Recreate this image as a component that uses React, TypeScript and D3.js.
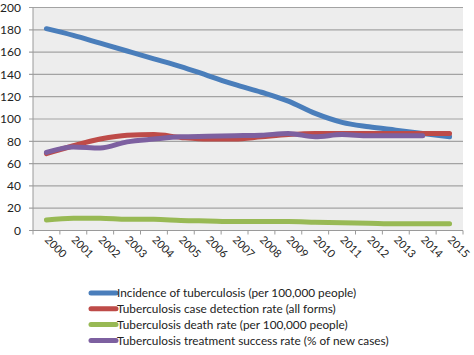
import React from "react";
import * as d3 from "d3";

const years = ["2000","2001","2002","2003","2004","2005","2006","2007","2008","2009","2010","2011","2012","2013","2014","2015"];
const incidence = [181,175,168,161,154,147,139,131,124,116,105,97,93,90,87,84];
const detection = [69,76,82,85.5,86,83.5,82,82,84,86,87,87,87,87,87,87];
const deathRate = [9.5,11,11,10,10,9,8.5,8,8,8,7.5,7,6.5,6,6,6];
const treatment = [70,75,74,79.5,82,84,84.5,85,85.5,87,84,86,85,85,85];
const yTicks = [0,20,40,60,80,100,120,140,160,180,200];

const seriesNames = [
  "Incidence of tuberculosis (per 100,000 people)",
  "Tuberculosis case detection rate (all forms)",
  "Tuberculosis death rate (per 100,000 people)",
  "Tuberculosis treatment success rate (% of new cases)",
];
const seriesColors = ["#4a7ebb", "#be4b48", "#98b954", "#7d60a0"];

export default function App() {
  const W = 474, H = 355;
  const left = 33, right = 463, top = 7.5, bottom = 230.5;
  const x = d3.scaleBand<string>().domain(years).range([left, right]);
  const y = d3.scaleLinear().domain([0, 200]).range([bottom, top]);
  const allSeries = [incidence, detection, deathRate, treatment];
  const line = d3.line<number>()
    .x((_, i) => (x(years[i]) as number) + x.bandwidth() / 2)
    .y((d) => y(d))
    .curve(d3.curveMonotoneX);
  const font = "Lato, 'Open Sans', sans-serif";
  const bounds = years.map((yr) => x(yr) as number).concat([right]);
  return (
    <svg width={W} height={H} style={{ position: "absolute", left: 0, top: 0, background: "#fff" }}>
      <rect x={left} y={top} width={right - left} height={bottom - top} fill="#ededed" />
      {yTicks.map((t) => (
        <g key={t}>
          {t > 0 && (
            <line x1={left - 4} x2={right} y1={y(t)} y2={y(t)} stroke="#a3a3a3" strokeWidth={1.2} />
          )}
          <text x={21} y={y(t)} dy="0.35em" textAnchor="end" fontFamily={font} fontSize={12} fill="#222">{t}</text>
        </g>
      ))}
      <line x1={left} x2={left} y1={top} y2={bottom + 0.5} stroke="#9a9a9a" strokeWidth={1} />
      <line x1={left - 4} x2={right} y1={bottom} y2={bottom} stroke="#9a9a9a" strokeWidth={1} />
      {bounds.map((b, i) => (
        <line key={i} x1={b} x2={b} y1={bottom} y2={bottom + 4} stroke="#9a9a9a" strokeWidth={1} />
      ))}
      {years.map((yr) => {
        const cx = (x(yr) as number) + x.bandwidth() / 2;
        return (
          <text key={yr} transform={`translate(${cx - 2.5},${bottom + 10}) rotate(45)`} fontFamily={font} fontSize={11} fill="#222">{yr}</text>
        );
      })}
      {allSeries.map((s, i) => (
        <path key={i} d={line(s) || ""} fill="none" stroke={seriesColors[i]} strokeWidth={5} strokeLinecap="round" strokeLinejoin="round" />
      ))}
      {seriesNames.map((n, i) => {
        const ly = 293 + i * 15.8;
        return (
          <g key={n}>
            <line x1={91} x2={116} y1={ly} y2={ly} stroke={seriesColors[i]} strokeWidth={5} strokeLinecap="round" />
            <text x={117} y={ly} dy="0.35em" fontFamily={font} fontSize={11.8} fill="#222">{n}</text>
          </g>
        );
      })}
    </svg>
  );
}
